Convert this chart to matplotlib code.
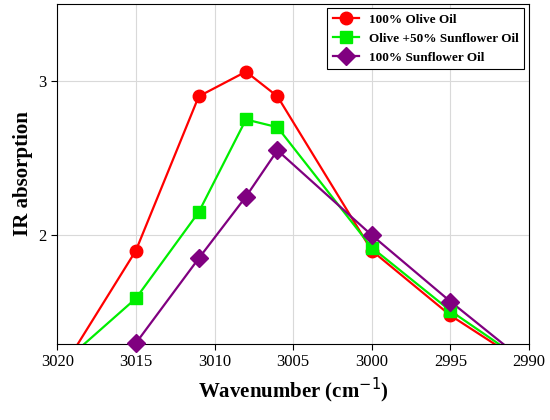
import matplotlib
matplotlib.use("Agg")
import matplotlib.pyplot as plt

plt.rcParams['font.family'] = ['Liberation Serif', 'DejaVu Serif']

x = [3020, 3015, 3011, 3008, 3006, 3000, 2995, 2990]
olive = [1.08, 1.90, 2.90, 3.06, 2.90, 1.90, 1.48, 1.15]
mix = [1.14, 1.59, 2.15, 2.75, 2.70, 1.92, 1.51, 1.16]
sun = [1.00, 1.30, 1.85, 2.25, 2.55, 2.00, 1.57, 1.16]
labels = ['100% Olive Oil', 'Olive +50% Sunflower Oil', '100% Sunflower Oil']
colors = ['#ff0000', '#00ee00', '#800080']
markers = ['o', 's', 'D']

fig = plt.figure(figsize=(5.5, 4.2), dpi=100)
ax = fig.add_axes([0.104, 0.181, 0.858, 0.81])
for ys, lab, c, m in zip([olive, mix, sun], labels, colors, markers):
    ax.plot(x, ys, color=c, lw=1.6, zorder=2)
    ax.plot(x[1:-1], ys[1:-1], ls='none', marker=m, color=c, ms=9, clip_on=False, zorder=3)
    ax.plot([], [], color=c, marker=m, ms=9, lw=1.6, label=lab)

ax.set_xlim(3020, 2990)
ax.set_ylim(1.295, 3.5)
ax.set_xticks([3020, 3015, 3010, 3005, 3000, 2995, 2990])
ax.set_yticks([2, 3])
ax.grid(True, color='#d9d9d9', lw=0.8, zorder=0)
ax.set_axisbelow(True)
ax.tick_params(labelsize=12, direction='out', length=4)
ax.set_xlabel('Wavenumber (cm$^{-1}$)', fontsize=15, fontweight='bold')
ax.set_ylabel('IR absorption', fontsize=15, fontweight='bold')
leg = ax.legend(loc='upper right', prop={'weight': 'bold', 'size': 9.5},
                fancybox=False, edgecolor='black', framealpha=1, borderaxespad=0.35)
leg.get_frame().set_linewidth(0.8)
fig.savefig('out.png', dpi=100)
